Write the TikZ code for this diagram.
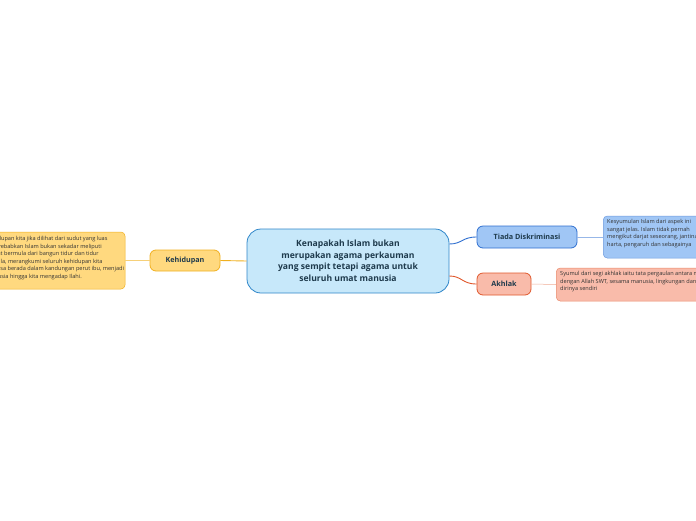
\documentclass[tikz,border=0pt]{standalone}
\usepackage{fontspec}
\setmainfont{Open Sans}
\begin{document}
\begin{tikzpicture}[x=1pt,y=-1pt,
  topic/.style={draw,rounded corners=6pt,line width=0.8pt,inner sep=0pt,font=\fontsize{7.2}{8}\selectfont\bfseries,text=tdark},
  note/.style={draw,rounded corners=4pt,line width=0.5pt,inner sep=0pt},
  ntext/.style={anchor=north west,align=left,font=\fontsize{5.6}{7.6}\selectfont,text=black!80,inner sep=0pt}]
\definecolor{tdark}{HTML}{1E3A4C}
\useasboundingbox (0,0) rectangle (696,520);
\clip (0,0) rectangle (696,520);
\definecolor{cblue}{HTML}{C7E8FA}\definecolor{bblue}{HTML}{2F86C9}
\definecolor{cor}{HTML}{FFD97F}\definecolor{bor}{HTML}{F0B020}
\definecolor{ctd}{HTML}{A0C6F5}\definecolor{btd}{HTML}{2F6FD0}
\definecolor{cak}{HTML}{F9BBAA}\definecolor{bak}{HTML}{E0582C}
\node[draw=bblue,fill=cblue,rounded corners=14pt,line width=0.8pt,minimum width=202pt,minimum height=64pt,align=center,font=\fontsize{8.6}{11.5}\selectfont\bfseries,text=tdark] (c) at (348,261) {Kenapakah Islam bukan\\merupakan agama perkauman\\yang sempit tetapi agama untuk\\seluruh umat manusia};
\node[topic,draw=bor,fill=cor,minimum width=70pt,minimum height=21pt] (k) at (185,260.5) {Kehidupan};
\node[topic,draw=btd,fill=ctd,minimum width=100pt,minimum height=22pt] (t) at (527,237) {Tiada Diskriminasi};
\node[topic,draw=bak,fill=cak,minimum width=54pt,minimum height=22pt] (a) at (504,284) {Akhlak};
\node[note,draw=bor,fill=cor,minimum width=145pt,minimum height=57pt] (kn) at (52.5,260.5) {};
\node[note,draw=btd!70,fill=ctd,minimum width=120pt,minimum height=42pt,anchor=west] (tn) at (603,237) {};
\node[note,draw=bak!70,fill=cak,minimum width=160pt,minimum height=33pt,anchor=west] (an) at (556,284.5) {};
\node[ntext] at (-14,236) {Kehidupan kita jika dilihat dari sudut yang luas\\menyebabkan Islam bukan sekadar meliputi\\ibadat bermula dari bangun tidur dan tidur\\semula, merangkumi seluruh kehidupan kita\\semasa berada dalam kandungan perut ibu, menjadi\\manusia hingga kita mengadap Ilahi.};
\node[ntext] at (607,219) {Kesyumulan Islam dari aspek ini\\sangat jelas. Islam tidak pernah\\mengikut darjat seseorang, jantina,\\harta, pengaruh dan sebagainya};
\node[ntext] at (560,271) {Syumul dari segi akhlak iaitu tata pergaulan antara manusia\\dengan Allah SWT, sesama manusia, lingkungan dan\\dirinya sendiri};
\draw[bor,line width=0.9pt] (c.west) -- (k.east);
\draw[btd,line width=0.9pt] (c.east |- 0,244) .. controls (462,244) and (462,237) .. (t.west);
\draw[bak,line width=0.9pt] (c.east |- 0,276) .. controls (462,276) and (462,284) .. (a.west);
\draw[bor!60,line width=0.5pt] (k.west) -- (kn.east);
\draw[btd!50,line width=0.5pt] (t.east) -- (tn.west);
\draw[bak!50,line width=0.5pt] (a.east) -- (an.west);
\end{tikzpicture}
\end{document}
